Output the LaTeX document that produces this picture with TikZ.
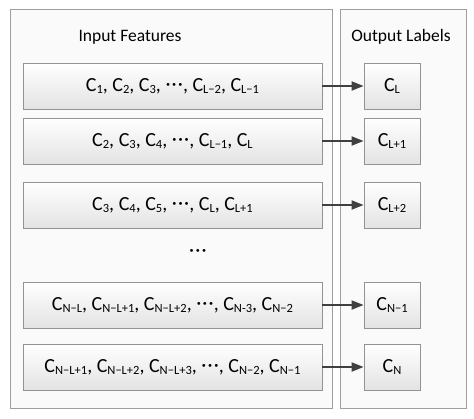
\documentclass[tikz,border=0pt]{standalone}
\usepackage{fontspec}
\setmainfont{Carlito}
\usetikzlibrary{arrows.meta}
\newcommand\sbs[1]{\raisebox{-0.12em}{\fontsize{12.5}{13}\selectfont #1}}
\newcommand\cc[1]{C\sbs{#1}}
\newcommand\mdots{\raisebox{0.05em}{\textperiodcentered\kern0.06em\textperiodcentered\kern0.06em\textperiodcentered}}
\begin{document}
\begin{tikzpicture}[x=1pt,y=-1pt,
		panel/.style={draw=gray!75,fill=gray!4,line width=0.8pt},
		inbox/.style={draw=gray!85,line width=0.8pt,top color=white,bottom color=gray!22,
			minimum width=299pt,minimum height=46pt,inner sep=0pt,font=\fontsize{20}{22}\selectfont},
		outbox/.style={inbox,minimum width=56pt},
		link/.style={draw=black!75,line width=1.8pt,-{Triangle[length=12pt,width=9pt]}}]
		\useasboundingbox (0,0) rectangle (474,418);
		\draw[panel] (10,9) rectangle (332,408);
		\draw[panel] (340,9) rectangle (466,408);
		\node[font=\fontsize{17.5}{20}\selectfont] (inhead) at (130,37) {Input Features};
		\node[font=\fontsize{17.5}{20}\selectfont] (outhead) at (401,37) {Output Labels};

		\node[inbox] (in1) at (172.5,86) {\cc{1}, \cc{2}, \cc{3}, \mdots, \cc{L−2}, \cc{L−1}};
		\node[outbox] (out1) at (392,86) {\cc{L}};
		\node[inbox] (in2) at (172.5,141) {\cc{2}, \cc{3}, \cc{4}, \mdots, \cc{L−1}, \cc{L}};
		\node[outbox] (out2) at (392,141) {\cc{L+1}};
		\node[inbox] (in3) at (172.5,205) {\cc{3}, \cc{4}, \cc{5}, \mdots, \cc{L}, \cc{L+1}};
		\node[outbox] (out3) at (392,205) {\cc{L+2}};

		\node[font=\fontsize{20}{22}\selectfont] (gap) at (198,253) {\mdots};

		\node[inbox] (in4) at (172.5,305) {\cc{N−L}, \cc{N−L+1}, \cc{N−L+2}, \mdots, \cc{N-3}, \cc{N−2}};
		\node[outbox] (out4) at (392,305) {\cc{N−1}};
		\node[inbox] (in5) at (172.5,367) {\cc{N−L+1}, \cc{N−L+2}, \cc{N−L+3}, \mdots, \cc{N−2}, \cc{N−1}};
		\node[outbox] (out5) at (392,367) {\cc{N}};

		\foreach \i in {1,...,5}
			\draw[link] (in\i) -- (out\i);
	\end{tikzpicture}
\end{document}
